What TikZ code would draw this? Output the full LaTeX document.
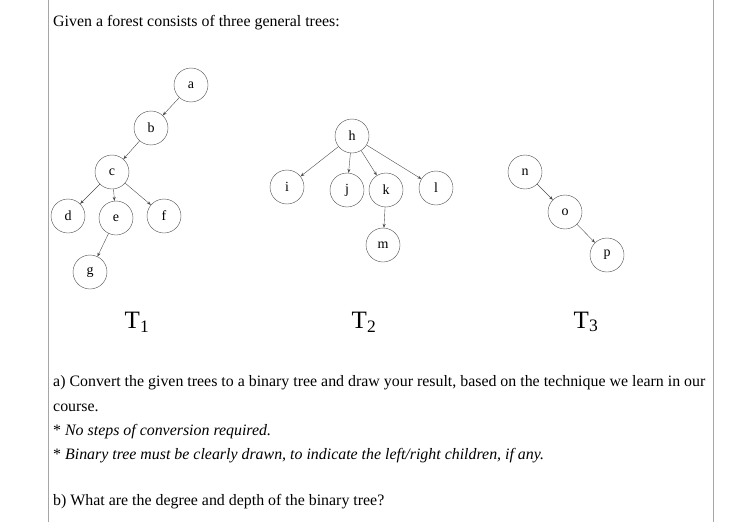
\documentclass[tikz,border=0pt]{standalone}
\usepackage{fontspec}
\setmainfont{Liberation Serif}
\usetikzlibrary{arrows.meta}
\begin{document}
\begin{tikzpicture}[x=1pt,y=-1pt,
  tn/.style={circle,draw=black!70,thin,minimum size=34pt,inner sep=0pt,font=\fontsize{14}{14}\selectfont},
  ed/.style={draw=black!70,thin,-{Stealth[length=4pt,width=3pt]}},
  txt/.style={anchor=base west,inner sep=0pt,font=\fontsize{15.9}{15.9}\selectfont},
  tl/.style={font=\fontsize{25}{25}\selectfont}]
\useasboundingbox (0,0) rectangle (729,522);
\draw[black!35,line width=1pt] (48,0) -- (48,522) (713,0) -- (713,522);
\node[txt] (t0) at (53,27) {Given a forest consists of three general trees:};
\node[tn] (a) at (191,85) {a};
\node[tn] (b) at (151,128) {b};
\node[tn] (c) at (112,172) {c};
\node[tn] (d) at (68,216) {d};
\node[tn] (e) at (116,218) {e};
\node[tn] (f) at (164,216) {f};
\node[tn] (g) at (90,272) {g};
\node[tn] (h) at (352,136) {h};
\node[tn] (i) at (287,187) {i};
\node[tn] (j) at (347,190) {j};
\node[tn] (k) at (386,190) {k};
\node[tn] (l) at (436,188) {l};
\node[tn] (m) at (383,245) {m};
\node[tn] (n) at (525,172) {n};
\node[tn] (o) at (565,212) {o};
\node[tn] (p) at (607,255) {p};
\foreach \u/\v in {a/b,b/c,c/d,c/e,c/f,e/g,h/i,h/j,h/k,h/l,k/m,n/o,o/p}
  \draw[ed] (\u) -- (\v);
\node[tl] (T1) at (137,322) {T\textsubscript{1}};
\node[tl] (T2) at (364,322) {T\textsubscript{2}};
\node[tl] (T3) at (586,322) {T\textsubscript{3}};
\node[txt] (q1) at (53,386) {a) Convert the given trees to a binary tree and draw your result, based on the technique we learn in our};
\node[txt] (q2) at (53,411) {course.};
\node[txt] (q3) at (53,435) {* \textit{No steps of conversion required.}};
\node[txt] (q4) at (53,459) {* \textit{Binary tree must be clearly drawn, to indicate the left/right children, if any.}};
\node[txt] (q5) at (53,505) {b) What are the degree and depth of the binary tree?};
\end{tikzpicture}
\end{document}
